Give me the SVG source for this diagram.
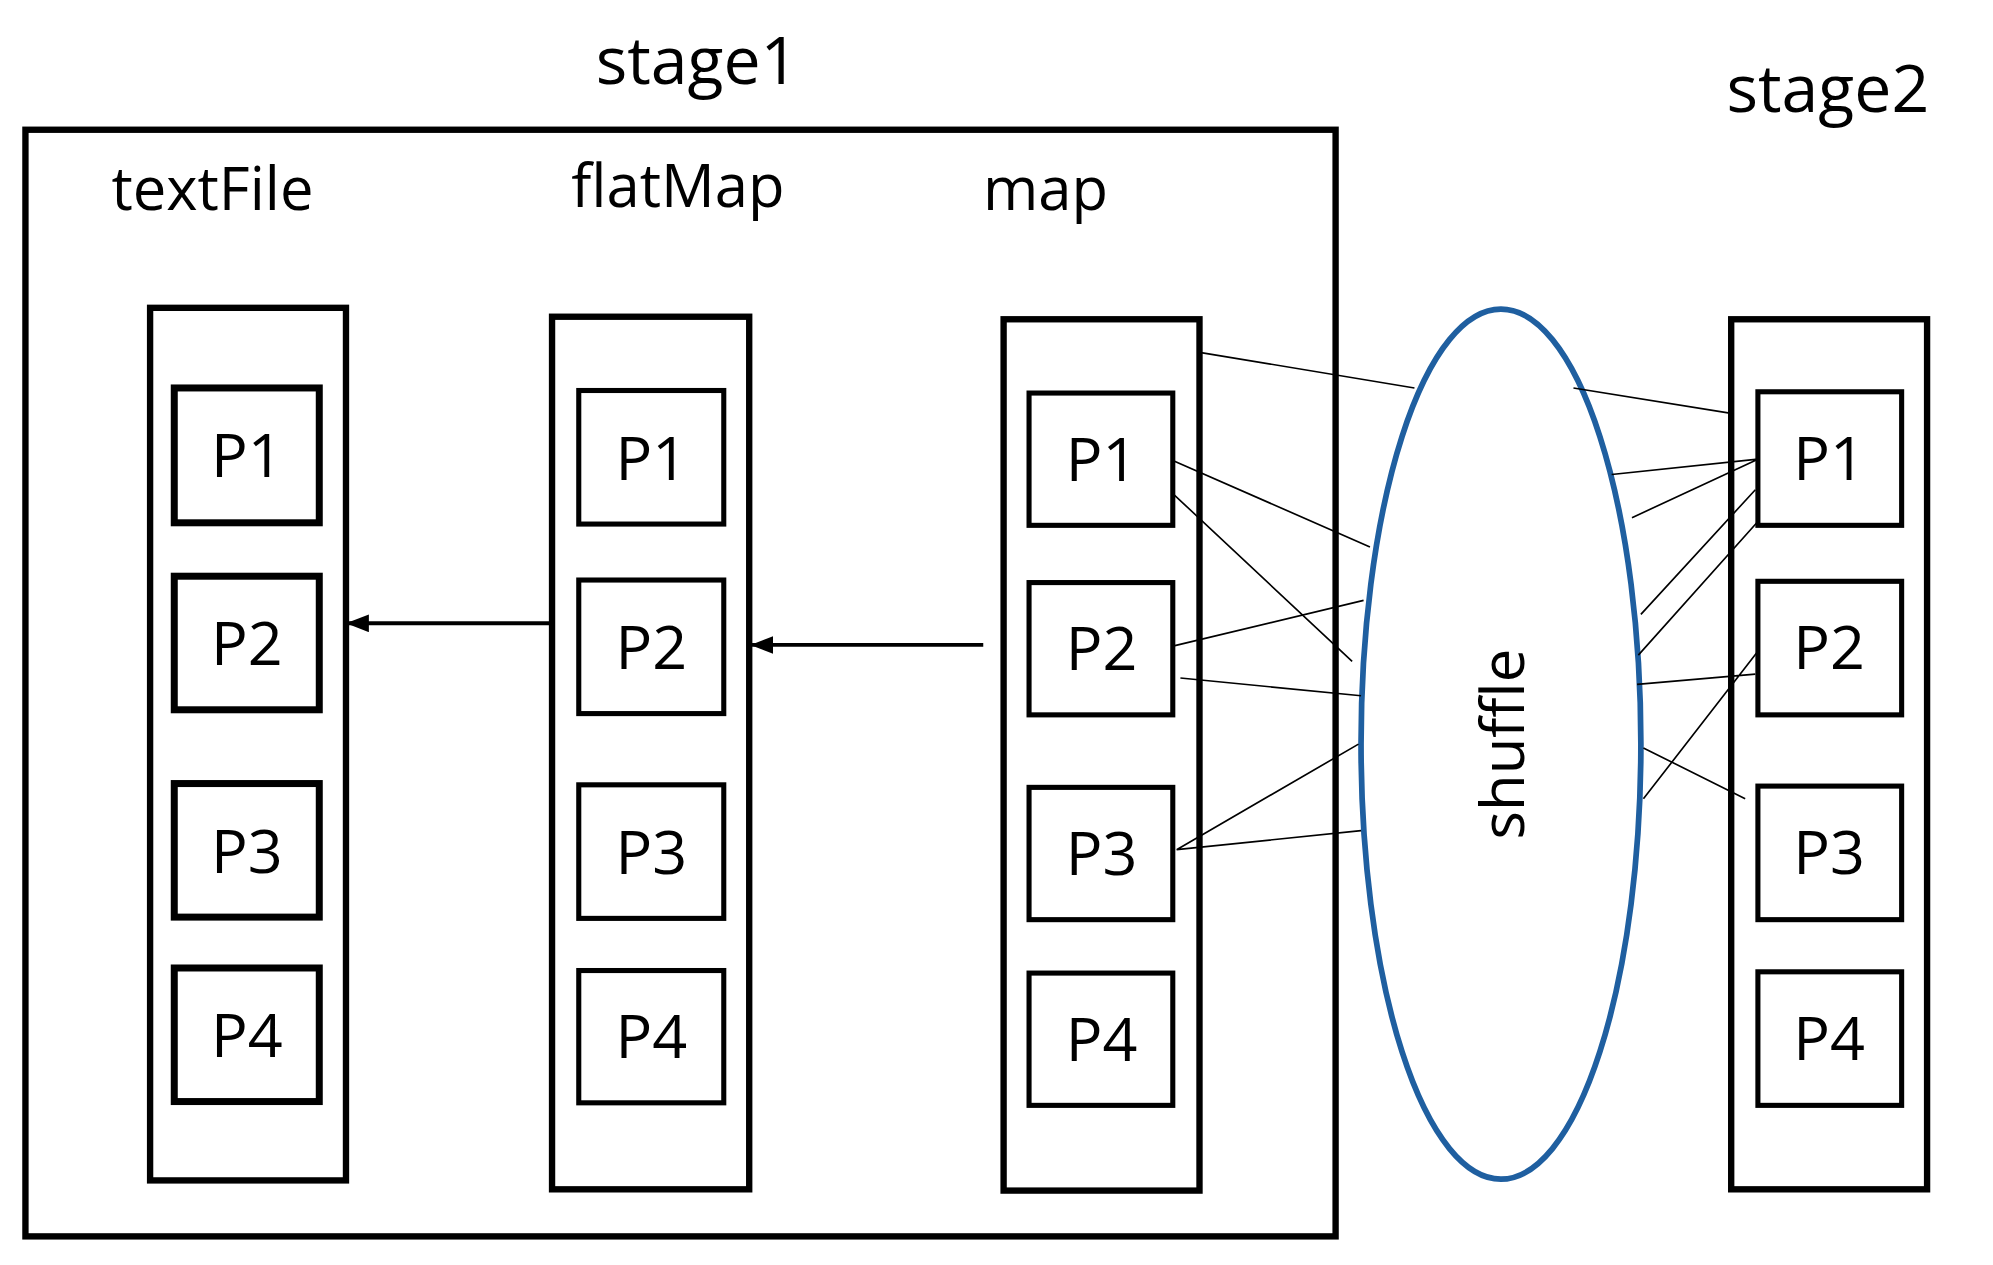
<svg xmlns="http://www.w3.org/2000/svg" width="1993" height="1265" viewBox="0 0 1993 1265">
<style>
text{font-family:"Open Sans","Liberation Sans",sans-serif;fill:#000;text-anchor:middle}
.t{font-size:52px}.l{font-size:47px}.p{font-size:48px}
.box{fill:#fff;stroke:#000;stroke-width:5}
.pb{fill:#fff;stroke:#000;stroke-width:4}
.pt{fill:#fff;stroke:#000;stroke-width:5.5}
.thin{stroke:#000;stroke-width:1.3;fill:none}
</style>
<defs><marker id="ah" markerWidth="18" markerHeight="14" refX="17" refY="7" orient="auto" markerUnits="userSpaceOnUse"><path d="M0,0 L18,7 L0,14 z" fill="#000"/></marker></defs>
<rect width="1993" height="1265" fill="#fff"/>
<g transform="scale(1.272)">
<g id="stage1"><rect x="20" y="102" width="1030" height="870" fill="none" stroke="#000" stroke-width="5"/><text class="t" x="548" y="66">stage1</text></g>
<text class="t" x="1437" y="88">stage2</text>
<text class="l" x="167" y="165">textFile</text>
<text class="l" x="533" y="163">flatMap</text>
<text class="l" x="822" y="165">map</text>
<g id="textFile"><rect class="box" x="118" y="242" width="154" height="686"/>
<rect class="pt" x="137" y="305" width="114" height="106"/><text class="p" x="194" y="375">P1</text>
<rect class="pt" x="137" y="453" width="114" height="105"/><text class="p" x="194" y="523">P2</text>
<rect class="pt" x="137" y="616" width="114" height="105"/><text class="p" x="194" y="686">P3</text>
<rect class="pt" x="137" y="761" width="114" height="105"/><text class="p" x="194" y="831">P4</text></g>
<g id="flatMap"><rect class="box" x="434" y="249" width="155" height="686"/>
<rect class="pb" x="455" y="307" width="114" height="105"/><text class="p" x="512" y="377">P1</text>
<rect class="pb" x="455" y="456" width="114" height="105"/><text class="p" x="512" y="526">P2</text>
<rect class="pb" x="455" y="617" width="114" height="105"/><text class="p" x="512" y="687">P3</text>
<rect class="pb" x="455" y="763" width="114" height="104"/><text class="p" x="512" y="832">P4</text></g>
<g id="map"><rect class="box" x="789" y="251" width="154" height="685"/>
<rect class="pb" x="809" y="309" width="113" height="104"/><text class="p" x="866" y="378">P1</text>
<rect class="pb" x="809" y="458" width="113" height="104"/><text class="p" x="866" y="527">P2</text>
<rect class="pb" x="809" y="619" width="113" height="104"/><text class="p" x="866" y="688">P3</text>
<rect class="pb" x="809" y="765" width="113" height="104"/><text class="p" x="866" y="834">P4</text></g>
<g id="stage2col"><rect class="box" x="1361" y="251" width="154" height="684"/>
<rect class="pb" x="1382" y="308" width="113" height="105"/><text class="p" x="1438" y="377">P1</text>
<rect class="pb" x="1382" y="457" width="113" height="105"/><text class="p" x="1438" y="526">P2</text>
<rect class="pb" x="1382" y="618" width="113" height="105"/><text class="p" x="1438" y="687">P3</text>
<rect class="pb" x="1382" y="764" width="113" height="105"/><text class="p" x="1438" y="833">P4</text></g>
<g id="shuffle"><ellipse cx="1180" cy="585" rx="110" ry="342" fill="none" stroke="#1f5fa0" stroke-width="4.5"/>
<text class="l" transform="translate(1198,585) rotate(-90)">shuffle</text></g>
<g id="connectors">
<line x1="433" y1="490" x2="273" y2="490" stroke="#000" stroke-width="3" marker-end="url(#ah)"/>
<line x1="773" y1="507" x2="591" y2="507" stroke="#000" stroke-width="3" marker-end="url(#ah)"/>
<path class="thin" d="M943,277 L1112,305 M922,362 L1077,430 M922,388 L1063,520 M922,508 L1072,472 M928,533 L1070,547 M925,668 L1068,585 M925,668 L1070,653 M1237,305 L1361,325 M1267,373 L1382,361 M1283,407 L1382,361 M1290,483 L1380,385 M1288,515 L1382,410 M1287,538 L1380,530 M1292,628 L1382,512 M1292,588 L1372,628"/>
</g>
</g>
</svg>
